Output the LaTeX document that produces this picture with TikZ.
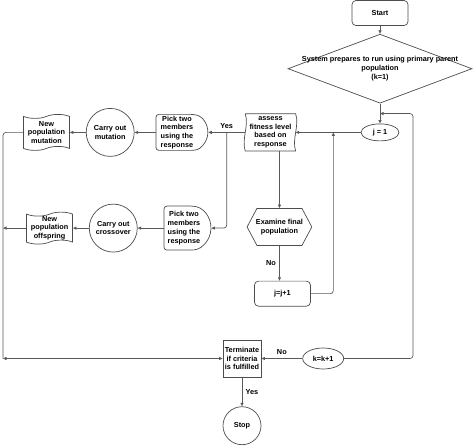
\documentclass[tikz,border=0pt]{standalone}
\usepackage{fontspec}
\setmainfont{Liberation Sans}
\usetikzlibrary{shapes.geometric, shapes.misc, shapes.symbols, arrows.meta,
                positioning, calc}

\begin{document}
\begin{tikzpicture}[
    x=1pt, y=1pt,
    every node/.style={font=\fontsize{7.3}{8.7}\selectfont\bfseries, align=center},
    base/.style={draw=black!70, line width=0.7pt, inner sep=0pt},
    roundbox/.style={base, rectangle, rounded corners=4pt,
                     minimum width=56pt, minimum height=25pt},
    decision/.style={base, diamond, aspect=2.67, inner xsep=-30pt,
                     minimum width=184pt, minimum height=69pt},
    counter/.style={base, ellipse, minimum width=38pt, minimum height=17pt},
    fitbox/.style={inner sep=0pt, minimum width=50pt, minimum height=37pt},
    hexbox/.style={base, signal, signal to=east and west,
                   signal pointer angle=124, inner xsep=-1pt,
                   minimum width=59pt, minimum height=37pt},
    pick/.style={base, rounded rectangle, rounded rectangle left arc=none,
                 rounded rectangle arc length=150, rounded corners=3pt,
                 minimum width=52pt, minimum height=36pt},
    circ/.style={base, circle, minimum size=48pt},
    popbox/.style={base, tape, tape bend height=4pt,
                   minimum width=46pt, minimum height=36pt},
    termbox/.style={base, rectangle, minimum width=38pt, minimum height=37pt},
    link/.style={draw=black!65, line width=0.7pt},
    arrow/.style={link, ->, >={Triangle[length=3.5pt,width=3pt]}}
]
\useasboundingbox (0,0) rectangle (474,445);

% main column
\node[roundbox] (start) at (380,432) {Start};
\node[decision, below=8pt of start] (dia)
    {System prepares to run using primary parent\\population\\(k=1)};
\node[counter, below=20pt of dia] (j1) {j = 1};
\node[fitbox, left=65pt of j1] (fit) {assess\\fitness level\\based on\\response};
\draw[base] (fit.north west) -- (fit.north east)
    .. controls +(4pt,-12pt) and +(-4pt,12pt) .. (fit.south east)
    -- (fit.south west)
    .. controls +(-4pt,12pt) and +(4pt,-12pt) .. (fit.north west);
\node[hexbox, below=57pt of fit, xshift=9pt] (exam) {Examine final\\population};
\node[roundbox, below=35pt of exam, xshift=3pt] (jinc) {j=j+1};

% left branches
\node[pick, left=37pt of fit] (pk1) {Pick two\\members\\using the\\response};
\node[circ, left=21pt of pk1] (mut) {Carry out\\mutation};
\node[popbox, left=16pt of mut] (nmut) {New\\population\\mutation};
\node[pick, below=55pt of pk1.south east, anchor=north east,
      minimum width=47pt, minimum height=44pt] (pk2)
    {Pick two\\members\\using the\\response};
\node[circ, left=26pt of pk2] (cross) {Carry out\\crossover};
\node[popbox, left=16pt of cross, minimum height=30pt] (noff)
    {New\\population\\offspring};

% bottom
\node[termbox] (term) at (242,86.5) {Terminate\\if criteria\\is fulfilled};
\node[counter, right=41pt of term, minimum width=41pt, minimum height=21pt]
    (kinc) {k=k+1};
\node[base, circle, minimum size=38pt, below=29pt of term] (stop) {Stop};

\coordinate (mj) at ($(dia.south)!0.5!(j1.north)$);
\coordinate (mx) at ($(fit.east)!0.58!(j1.west)$);
\coordinate (yb) at ($(fit.west)!0.5!(pk1.east)$);
\coordinate (rr) at (413,0);
\coordinate (lb) at (3,86.5);

\draw[arrow] (start) -- (dia);
\draw[arrow] (dia) -- (j1);
\draw[arrow] (j1.west) -- (fit.east);
\draw[arrow] (fit.west) -- node[above]{Yes} (pk1.east);
\draw[arrow, rounded corners=3pt] (yb) |- (pk2.east);
\draw[arrow] (pk1.west) -- (mut.east);
\draw[arrow] (mut.west) -- (nmut.east);
\draw[arrow] (pk2.west) -- (cross.east);
\draw[arrow] (cross.west) -- (noff.east);
\draw[arrow] (noff.west) -- (noff.west -| lb);
\draw[link, rounded corners=3pt] (nmut.west) -| (lb);
\draw[arrow, <->] (lb) -- (term.west);
\draw[arrow] (fit.south -| exam) -- (exam);
\draw[arrow] (exam) -- node[left]{No} (exam.south |- jinc.north);
\draw[arrow, rounded corners=3pt] (jinc.east) -| (mx);
\draw[arrow] (kinc) -- node[above]{No} (term);
\draw[arrow, rounded corners=3pt] (kinc.east) -- (kinc.east -| rr)
    -- (rr |- mj) -- (mj);
\draw[arrow] (term) -- node[right]{Yes} (stop);
\end{tikzpicture}
\end{document}
